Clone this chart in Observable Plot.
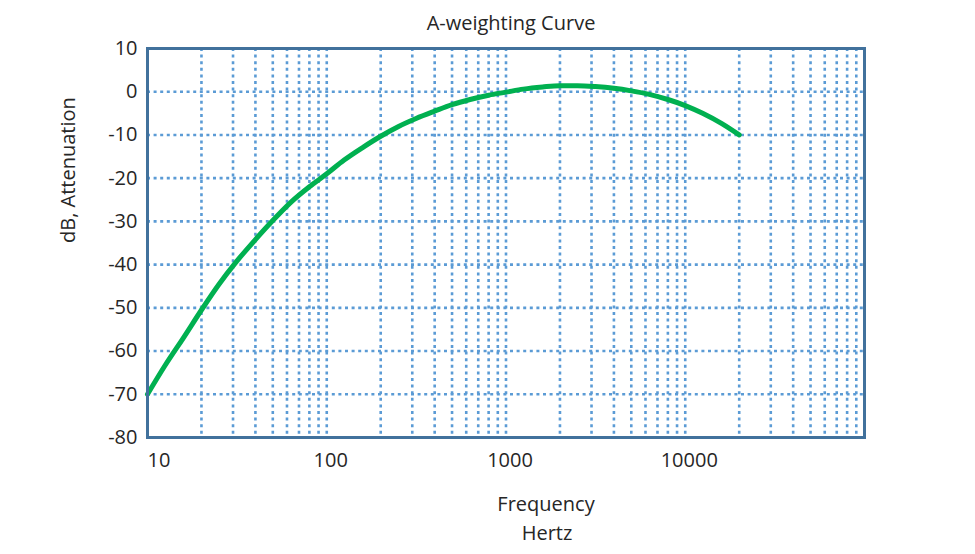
<!DOCTYPE html>
<html><head><meta charset="utf-8">
<script src="https://cdn.jsdelivr.net/npm/d3@7"></script>
<script src="https://cdn.jsdelivr.net/npm/@observablehq/plot@0.6"></script>
<style>
body{margin:0;background:#fff;font-family:"Open Sans",sans-serif;}
#title{height:20px;position:relative;width:975px;}
#title span{position:absolute;left:511px;top:22px;transform:translate(-50%,-50%);font-size:20px;color:#262626;white-space:nowrap;}
</style></head><body>
<div id="title"><span>A-weighting Curve</span></div>
<div id="chart"></div>
<script>
const freqHz = [10,12.5,16,20,25,31.5,40,50,63,80,100,125,160,200,250,315,400,500,630,800,1000,1250,1600,2000,2500,3150,4000,5000,6300,8000,10000,12500,16000,20000];
const attenuationDb = [-70,-63.4,-56.7,-50.5,-44.6,-39.2,-34.2,-29.8,-25.6,-22.0,-19.0,-15.8,-12.8,-10.3,-8.1,-6.2,-4.5,-3.0,-1.8,-0.8,-0.1,0.6,1.1,1.4,1.4,1.2,0.8,0.2,-0.6,-1.8,-3.2,-5.0,-7.4,-10];
const xTickLabels = [10,100,1000,10000];
const yTickLabels = [10,0,-10,-20,-30,-40,-50,-60,-70,-80];
const xGridHz = [20,30,40,50,60,70,80,90,100,200,300,400,500,600,700,800,900,1000,2000,3000,4000,5000,6000,7000,8000,9000,10000,20000,30000,40000,50000,60000,70000,80000,90000];
const yGridDb = [0,-10,-20,-30,-40,-50,-60,-70];
const xDomain = [10,100000];
const yDomain = [-80,10];

const data = freqHz.map((f,i)=>({f, db: attenuationDb[i]}));
const grid = {stroke:"#5b9bd5", strokeWidth:2.6, strokeDasharray:"3,3.6", strokeOpacity:1};
const txt = "#262626";
const fs = 20;

const chart = Plot.plot({
  width: 975, height: 534,
  marginTop: 28, marginBottom: 117, marginLeft: 147, marginRight: 111,
  style: {fontFamily: "'Open Sans', sans-serif", fontSize: fs + "px", color: txt, background: "transparent", overflow: "visible"},
  x: {type: "log", domain: xDomain, axis: null, label: null},
  y: {domain: yDomain, axis: null, label: null},
  marks: [
    Plot.ruleX(xGridHz, grid),
    Plot.ruleY(yGridDb, grid),
    Plot.line(data, {x: "f", y: "db", stroke: "#00b050", strokeWidth: 5, curve: "monotone-x"}),
    Plot.frame({stroke: "#41719c", strokeWidth: 3}),
    Plot.axisX([xTickLabels[0]], {label: null, tickSize: 0, tickPadding: 15, textAnchor: "start", fontSize: fs, fill: txt, tickFormat: d => String(d)}),
    Plot.axisX(xTickLabels.slice(1), {label: null, tickSize: 0, tickPadding: 15, dx: 4, fontSize: fs, fill: txt, tickFormat: d => String(d)}),
    Plot.axisY(yTickLabels, {label: null, tickSize: 0, tickPadding: 10, fontSize: fs, fill: txt, tickFormat: d => String(d)}),
    Plot.text(["dB, Attenuation"], {frameAnchor: "left", dx: -79, rotate: -90, fontSize: fs, fill: txt}),
    Plot.text(["Frequency"], {frameAnchor: "bottom", dx: 40, dy: 73, fontSize: fs, fill: txt}),
    Plot.text(["Hertz"], {frameAnchor: "bottom", dx: 41, dy: 102, fontSize: fs, fill: txt})
  ]
});
document.getElementById("chart").appendChild(chart);
</script>
</body></html>
